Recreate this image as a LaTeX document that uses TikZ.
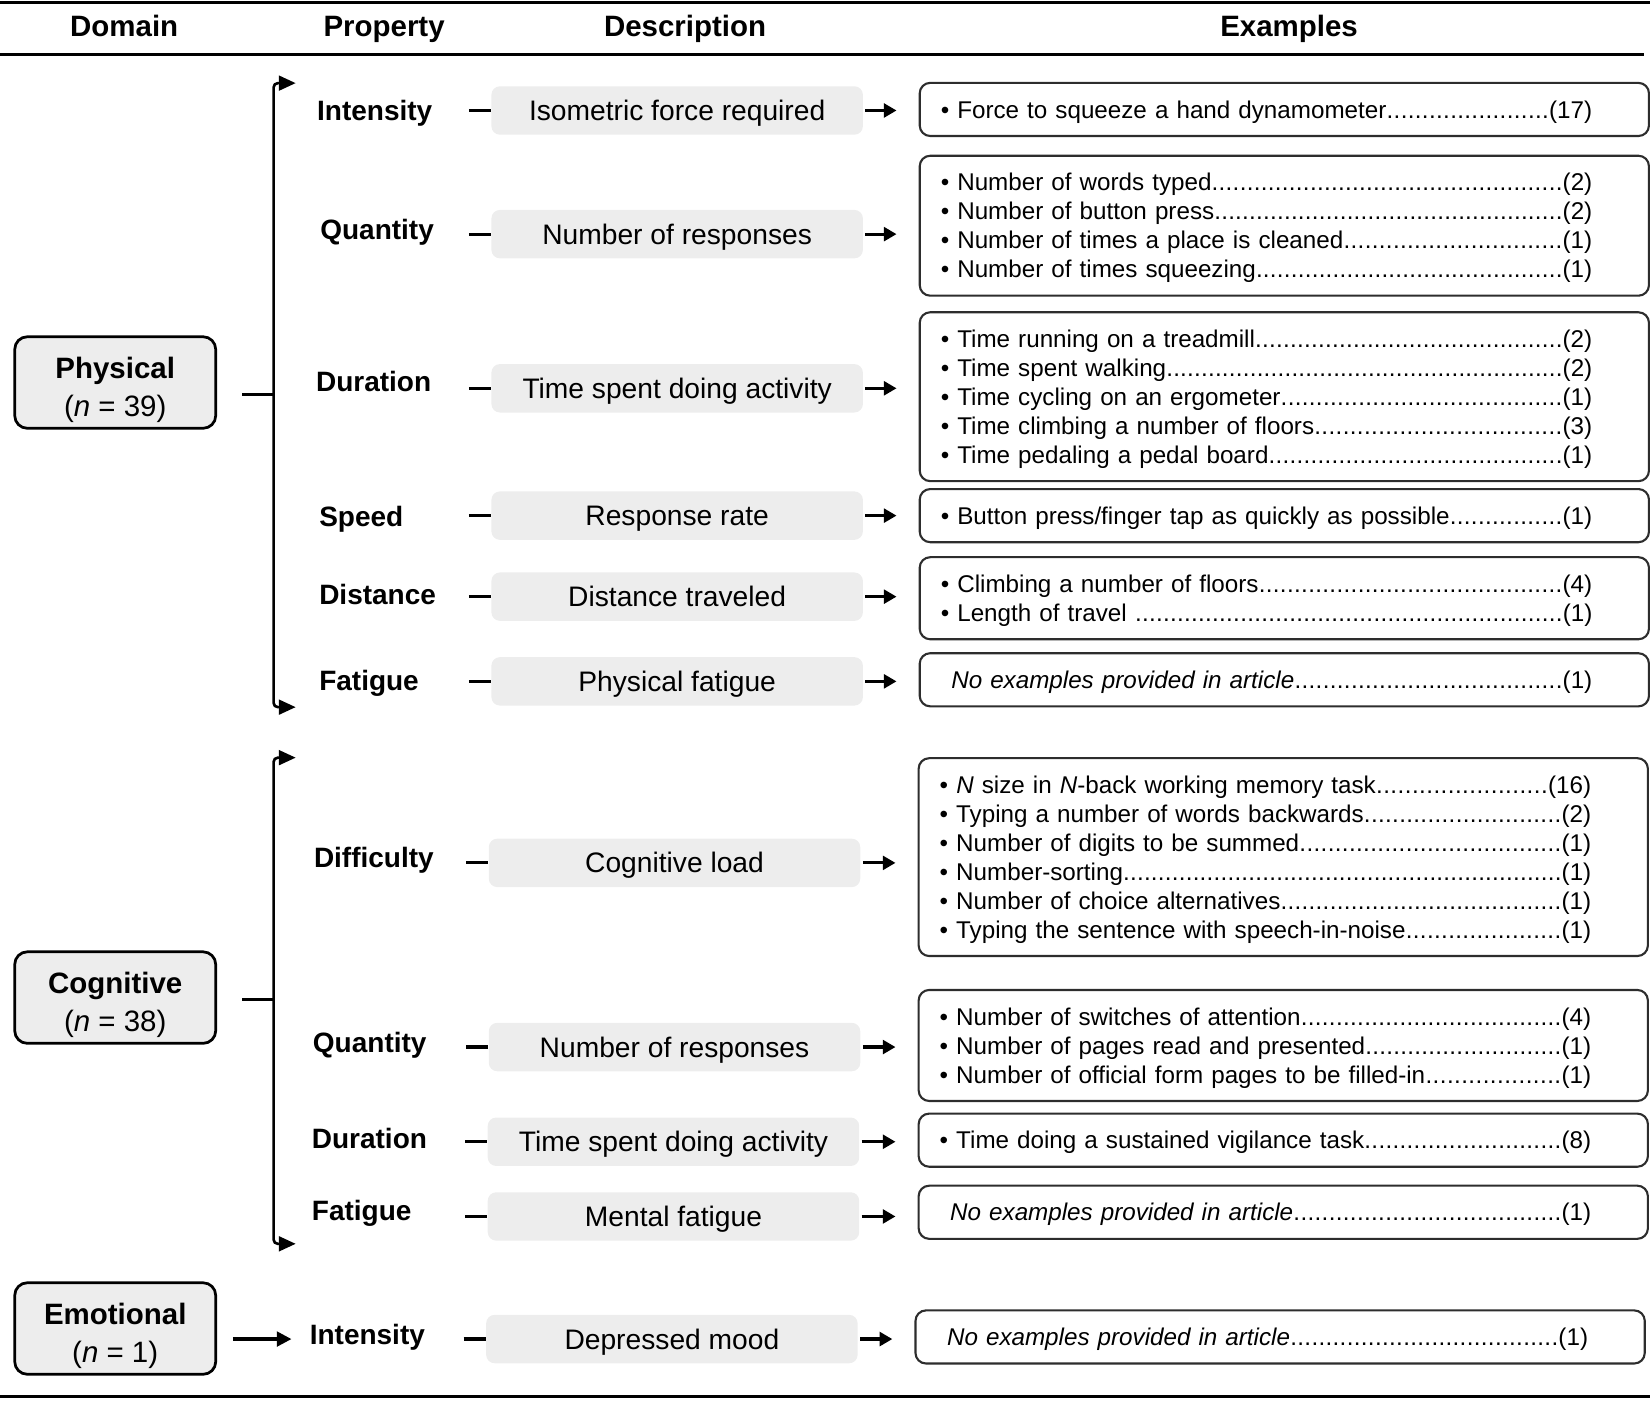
\documentclass[tikz,border=0pt]{standalone}
\usepackage{fontspec}
\setmainfont{Liberation Sans}
\usetikzlibrary{positioning,arrows.meta}
\definecolor{boxgray}{RGB}{237,237,237}
\definecolor{exline}{RGB}{45,45,45}
\newlength{\exw}
\setlength{\exw}{309.5pt}
\newcommand{\dotlead}{\xleaders\hbox to 3.3pt{\hss.\hss}\hfill}
\newcommand{\exstrut}{\rule[-2.75pt]{0pt}{13.75pt}}
\newcommand{\exitem}[2]{\makebox[\exw][l]{\exstrut\textbullet\ #1\dotlead(#2)}}
\newcommand{\noex}[1]{\makebox[\exw][l]{\exstrut\hspace{5pt}\textit{No examples provided in article}\dotlead(#1)}}
\newcommand{\domtxt}[2]{\rule{0pt}{17pt}\textbf{#1}\\(\textit{n} = #2)}
\tikzset{%
  head/.style = { anchor=base, inner sep=0pt, font=\fontsize{14}{16}\selectfont\bfseries },
  dombox/.style = { draw, line width=1.3pt, fill=boxgray, rounded corners=6pt, minimum width=95.5pt, minimum height=43.5pt, inner sep=0pt, align=center, font=\fontsize{14}{18}\selectfont },
  prop/.style = { anchor=base west, inner sep=0pt, font=\fontsize{13.3}{15}\selectfont\bfseries },
  desc/.style = { fill=boxgray, rounded corners=4pt, minimum width=176.5pt, minimum height=23pt, inner sep=0pt, text height=1.1em, text depth=0.15em, font=\fontsize{13.4}{15}\selectfont },
  exbox/.style = { draw=exline, line width=1pt, rounded corners=5pt, anchor=west, text width=326.5pt, inner xsep=10pt, inner ysep=5.75pt, align=left, font=\fontsize{11.5}{13.75}\selectfont },
  rule/.style = { line width=1.4pt },
  dashline/.style = { line width=1.5pt },
  toex/.style = { line width=1.5pt, -{Triangle[length=6pt,width=6.5pt]}, shorten <=1pt, shorten >=10.5pt },
  toprop/.style = { line width=1.5pt, -{Triangle[length=7pt,width=7pt]}, shorten <=7.5pt, shorten >=8.5pt },
  bracket/.style = { line width=1.25pt, rounded corners=2pt, {Triangle[length=8pt,width=7pt]}-{Triangle[length=8pt,width=7pt]} },
  stub/.style = { line width=1.25pt }
}
\begin{document}
\begin{tikzpicture}[x=0.5pt,y=-0.5pt]
  \useasboundingbox (0,0) rectangle (1568,1332.3);

  % Table rules and header
  \draw[rule] (0,2) -- (1568,2);
  \draw[rule] (0,52) -- (1562,52);
  \draw[rule] (0,1327) -- (1568,1327);
  \node[head] (hDom) at (118,35) {Domain};
  \node[head] (hPro) at (365,35) {Property};
  \node[head] (hDes) at (651,35) {Description};
  \node[head] (hExa) at (1225,35) {Examples};

  % Domains
  \node[dombox] (phys) at (109.5,363.5) {\domtxt{Physical}{39}};
  \node[dombox] (cogn) at (109.5,948) {\domtxt{Cognitive}{38}};
  \node[dombox] (emot) at (109.5,1262.5) {\domtxt{Emotional}{1}};

  % PHYSICAL
  \node[prop] (pInt) at (301,114.5) {Intensity};
  \node[desc] (pInt-d) at (643.5,105) {Isometric force required};
  \node[exbox] (pInt-e) at (873,104) {\exitem{Force to squeeze a hand dynamometer}{17}};

  \node[prop] (pQua) at (304,227.5) {Quantity};
  \node[desc] (pQua-d) at (643.5,222.5) {Number of responses};
  \node[exbox] (pQua-e) at (873,214.5) {\exitem{Number of words typed}{2}\\
    \exitem{Number of button press}{2}\\
    \exitem{Number of times a place is cleaned}{1}\\
    \exitem{Number of times squeezing}{1}};

  \node[prop] (pDur) at (300,372.5) {Duration};
  \node[desc] (pDur-d) at (643.5,369) {Time spent doing activity};
  \node[exbox] (pDur-e) at (873,377) {\exitem{Time running on a treadmill}{2}\\
    \exitem{Time spent walking}{2}\\
    \exitem{Time cycling on an ergometer}{1}\\
    \exitem{Time climbing a number of floors}{3}\\
    \exitem{Time pedaling a pedal board}{1}};

  \node[prop] (pSpe) at (303,500.5) {Speed};
  \node[desc] (pSpe-d) at (643.5,490) {Response rate};
  \node[exbox] (pSpe-e) at (873,490) {\exitem{Button press/finger tap as quickly as possible}{1}};

  \node[prop] (pDis) at (303,574.5) {Distance};
  \node[desc] (pDis-d) at (643.5,567) {Distance traveled};
  \node[exbox] (pDis-e) at (873,568.5) {\exitem{Climbing a number of floors}{4}\\
    \exitem{Length of travel\ }{1}};

  \node[prop] (pFat) at (303,656.5) {Fatigue};
  \node[desc] (pFat-d) at (643.5,647.5) {Physical fatigue};
  \node[exbox] (pFat-e) at (873,646) {\noex{1}};

  % COGNITIVE
  \node[prop] (cDif) at (298,824.5) {Difficulty};
  \node[desc] (cDif-d) at (641,820) {Cognitive load};
  \node[exbox] (cDif-e) at (872,814.5) {\exitem{\textit{N} size in \textit{N}-back working memory task}{16}\\
    \exitem{Typing a number of words backwards}{2}\\
    \exitem{Number of digits to be summed}{1}\\
    \exitem{Number-sorting}{1}\\
    \exitem{Number of choice alternatives}{1}\\
    \exitem{Typing the sentence with speech-in-noise}{1}};

  \node[prop] (cQua) at (297,1000.5) {Quantity};
  \node[desc] (cQua-d) at (641,995) {Number of responses};
  \node[exbox] (cQua-e) at (872,993.5) {\exitem{Number of switches of attention}{4}\\
    \exitem{Number of pages read and presented}{1}\\
    \exitem{Number of official form pages to be filled-in}{1}};

  \node[prop] (cDur) at (296,1091.5) {Duration};
  \node[desc] (cDur-d) at (640,1085) {Time spent doing activity};
  \node[exbox] (cDur-e) at (872,1083.5) {\exitem{Time doing a sustained vigilance task}{8}};

  \node[prop] (cFat) at (296,1159.5) {Fatigue};
  \node[desc] (cFat-d) at (640,1156) {Mental fatigue};
  \node[exbox] (cFat-e) at (872,1152) {\noex{1}};

  % EMOTIONAL
  \node[prop] (eInt) at (294,1277.5) {Intensity};
  \node[desc] (eInt-d) at (638.5,1272.5) {Depressed mood};
  \node[exbox] (eInt-e) at (869,1270.5) {\noex{1}};

  % Brackets
  \coordinate (pTop) at (281,79);
  \coordinate (pMid) at (260,375);
  \coordinate (pBot) at (281,672);
  \coordinate (pStub) at (230,375);
  \draw[bracket] (pTop) -| (pMid) |- (pBot);
  \draw[stub] (pStub) -- (pMid);

  \coordinate (cTop) at (281,720);
  \coordinate (cMid) at (260,950);
  \coordinate (cBot) at (281,1182);
  \coordinate (cStub) at (230,950);
  \draw[bracket] (cTop) -| (cMid) |- (cBot);
  \draw[stub] (cStub) -- (cMid);

  \draw[toprop] (emot.east |- eInt-d.west) -- (eInt.west |- eInt-d.west);

  % Dashes and arrows
  \foreach \r in {pInt,pQua,pDur,pSpe,pDis,pFat,cDif,cQua,cDur,cFat,eInt} {
    \draw[dashline] ([xshift=-10.5pt]\r-d.west) -- (\r-d.west);
    \draw[toex] (\r-d.east) -- (\r-d.east -| \r-e.west);
  }

\end{tikzpicture}
\end{document}
